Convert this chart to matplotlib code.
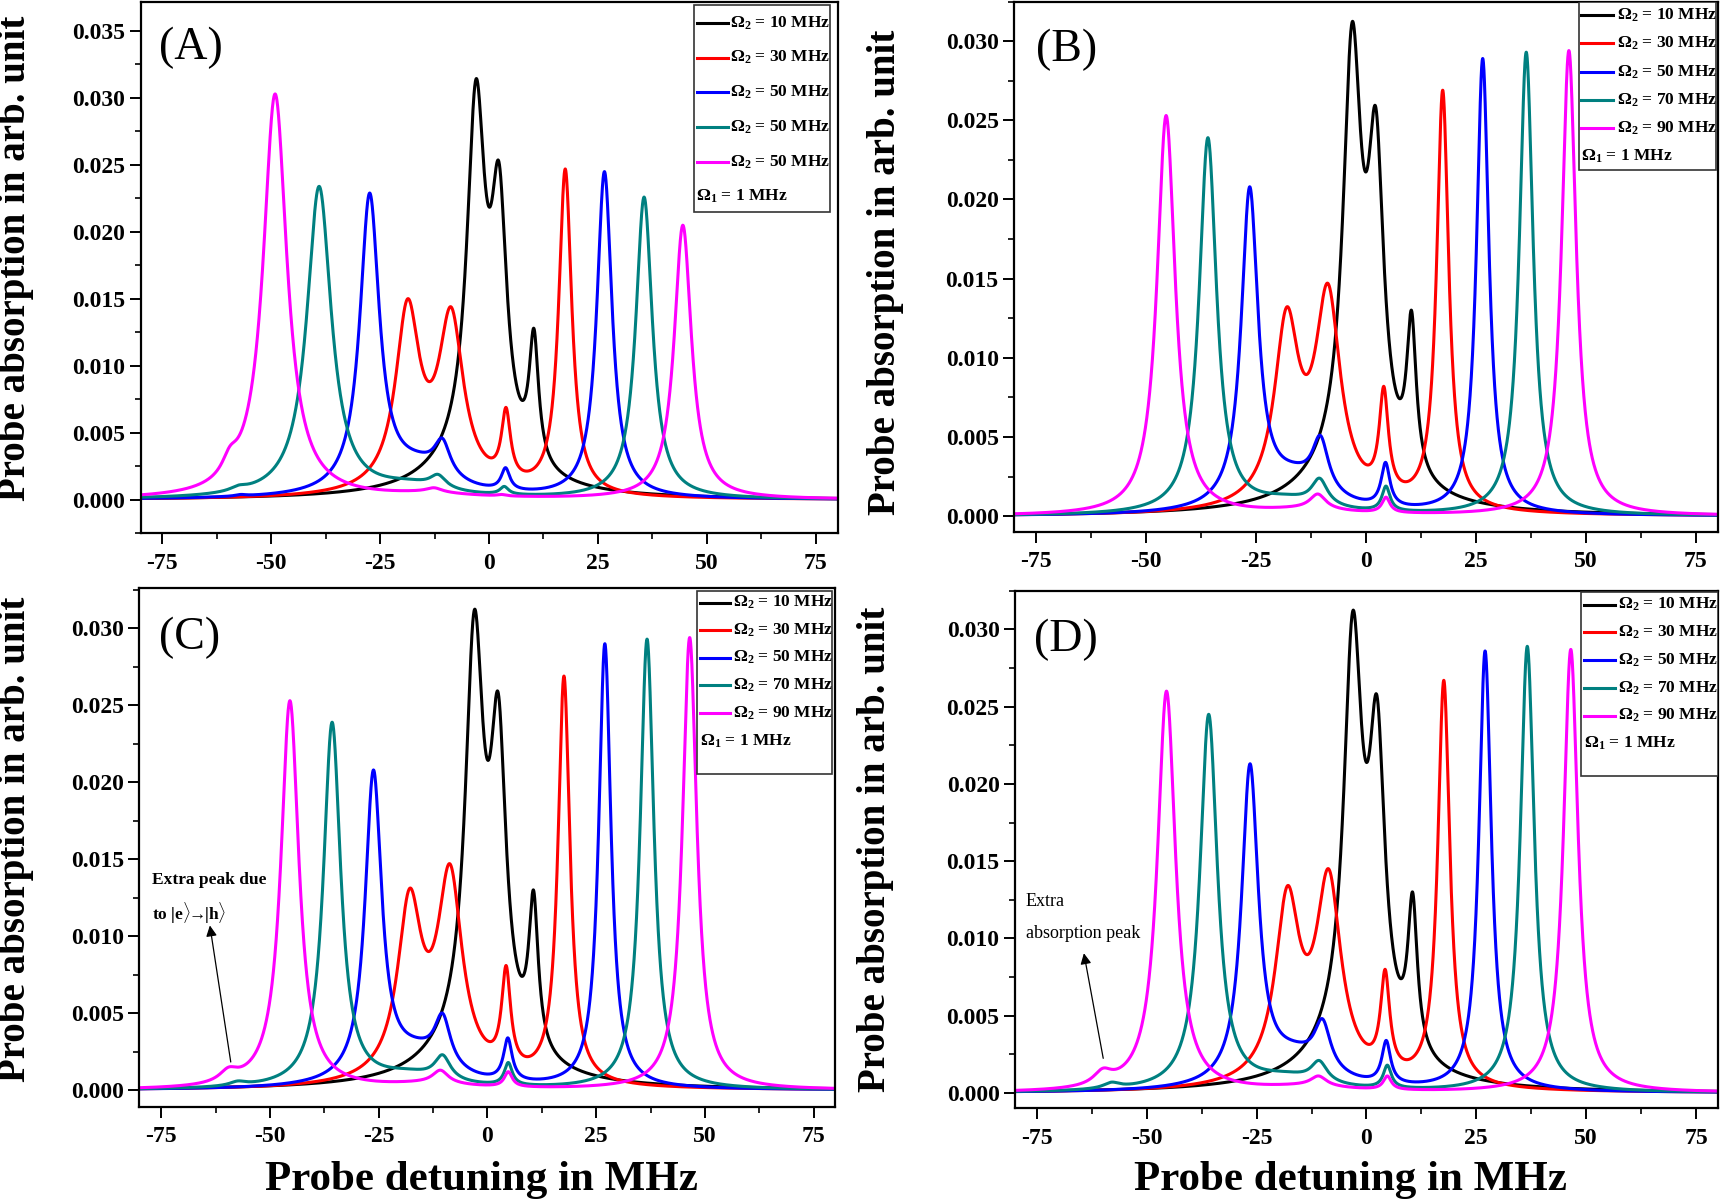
import numpy as np
import matplotlib
matplotlib.use("Agg")
import matplotlib.pyplot as plt
from matplotlib.ticker import MultipleLocator, FormatStrFormatter
from matplotlib.patches import Rectangle
from matplotlib.lines import Line2D

plt.rcParams['font.family'] = ['Liberation Serif', 'DejaVu Serif']
plt.rcParams['font.weight'] = 'bold'
plt.rcParams['mathtext.fontset'] = 'custom'
plt.rcParams['mathtext.rm'] = 'Liberation Serif'
plt.rcParams['mathtext.bf'] = 'Liberation Serif:bold'
plt.rcParams['mathtext.it'] = 'Liberation Serif:italic'
plt.rcParams['axes.unicode_minus'] = False

# ---------------- data ----------------
x_ticks = [-75, -50, -25, 0, 25, 50, 75]
omega2_A = [10, 30, 50, 50, 50]          # legend values printed in panel (A)
omega2_BCD = [10, 30, 50, 70, 90]
omega1 = 1

# each peak: (centre in MHz, curve height at centre, FWHM in MHz)
A_10 = [(-3.0, 0.0314, 5.0), (2.3, 0.0252, 4.3), (10.3, 0.0128, 2.6)]
A_30 = [(-18.7, 0.0150, 6.6), (-8.7, 0.0144, 6.8), (3.9, 0.0069, 2.5), (17.5, 0.0247, 3.6)]
A_50 = [(-57.0, 0.0004, 3.0), (-27.4, 0.0229, 5.4), (-10.7, 0.0046, 4.4), (3.8, 0.0024, 2.4), (26.5, 0.0245, 4.2)]
A_70 = [(-57.5, 0.0011, 4.5), (-39.0, 0.0234, 6.8), (-11.7, 0.0019, 4.4), (3.5, 0.0010, 2.4), (35.6, 0.0226, 4.6)]
A_90 = [(-59.5, 0.0040, 4.2), (-49.1, 0.0303, 6.6), (-12.6, 0.0009, 4.4), (2.9, 0.0004, 2.4), (44.5, 0.0205, 4.8)]

B_10 = [(-3.1, 0.0312, 5.0), (2.3, 0.0258, 4.3), (10.4, 0.0130, 2.6)]
B_30 = [(-18.0, 0.0132, 6.6), (-8.6, 0.0147, 6.8), (4.1, 0.0082, 2.5), (17.5, 0.0269, 3.3)]
B_50 = [(-26.4, 0.0208, 4.6), (-10.3, 0.0051, 4.4), (4.5, 0.0034, 2.4), (26.6, 0.0289, 3.4)]
B_70 = [(-35.9, 0.0239, 4.8), (-10.5, 0.0024, 4.4), (4.6, 0.0019, 2.2), (36.5, 0.0293, 3.8)]
B_90 = [(-45.4, 0.0253, 5.0), (-10.9, 0.0014, 4.4), (4.6, 0.0012, 2.2), (46.2, 0.0294, 4.0)]

C_10 = [(-3.0, 0.0312, 5.0), (2.5, 0.0258, 4.3), (10.6, 0.0130, 2.6)]
C_30 = [(-17.9, 0.0131, 6.6), (-8.6, 0.0147, 6.8), (4.3, 0.0081, 2.5), (17.6, 0.0269, 3.3)]
C_50 = [(-26.2, 0.0208, 4.6), (-10.3, 0.0050, 4.4), (4.7, 0.0034, 2.4), (27.0, 0.0290, 3.4)]
C_70 = [(-57.4, 0.0006, 4.5), (-35.7, 0.0239, 4.8), (-10.3, 0.0023, 4.4), (4.8, 0.0018, 2.2), (36.7, 0.0293, 3.8)]
C_90 = [(-59.5, 0.0015, 5.0), (-45.4, 0.0253, 5.0), (-10.8, 0.0013, 4.4), (4.8, 0.0012, 2.2), (46.5, 0.0294, 4.0)]

D_10 = [(-3.1, 0.0312, 5.0), (2.4, 0.0257, 4.3), (10.5, 0.0130, 2.6)]
D_30 = [(-18.0, 0.0134, 6.6), (-8.6, 0.0145, 6.8), (4.25, 0.0080, 2.5), (17.6, 0.0267, 3.3)]
D_50 = [(-26.5, 0.0213, 4.6), (-10.0, 0.0048, 4.4), (4.5, 0.0034, 2.4), (27.0, 0.0286, 3.4)]
D_70 = [(-58.0, 0.0007, 4.5), (-35.9, 0.0245, 4.8), (-10.75, 0.0021, 4.4), (4.75, 0.0018, 2.2), (36.6, 0.0289, 3.8)]
D_90 = [(-60.0, 0.0016, 5.0), (-45.5, 0.0260, 5.0), (-10.9, 0.0011, 4.4), (4.75, 0.0011, 2.2), (46.5, 0.0287, 4.0)]

# broad pedestal under each curve: (centre MHz, amplitude, FWHM MHz)
pedestal_10 = (-2.0, 0.0030, 24.0)
pedestal_30 = (-12.0, 0.0010, 22.0)
pedestal_50 = (-16.0, 0.0020, 18.0)
pedestal_70 = (-18.0, 0.0008, 20.0)
pedestal_90 = (-14.0, 0.0003, 24.0)

# ---------------- helpers ----------------
def lor(x, c, g):
    return g ** 2 / ((x - c) ** 2 + g ** 2)


def spectrum(x, peaks, ped):
    c = np.array([p[0] for p in peaks])
    h = np.array([p[1] for p in peaks])
    g = np.array([p[2] for p in peaks]) / 2.0
    pc, pa, pw = ped
    base = lambda t: pa * lor(t, pc, pw / 2.0)
    M = lor(c[:, None], c[None, :], g[None, :])
    amp = np.linalg.solve(M, h - base(c))
    y = base(x)
    for a, cc, gg in zip(amp, c, g):
        y = y + a * lor(x, cc, gg)
    return y


W, H = 1721, 1202
fig = plt.figure(figsize=(W / 100, H / 100), dpi=100)

colors = ['#000000', '#FF0000', '#0000FF', '#008080', '#FF00FF']
pedestals = [pedestal_10, pedestal_30, pedestal_50, pedestal_70, pedestal_90]

panels = [
    dict(name='(A)', box=(140.5, 1.5, 837.5, 533.3), ylim=(-0.0025, 0.0372),
         curves=[A_10, A_30, A_50, A_70, A_90], omegas=omega2_A,
         leg_box=(694, 5, 830, 212), leg_y=[23, 57.5, 92, 127, 162], leg_o1=196,
         leg_line=(696.5, 727.5), leg_text=730, letter=(159, 48),
         ylab=(16, 258), xlab=None),
    dict(name='(B)', box=(1014, 1.5, 1717.5, 532), ylim=(-0.001, 0.0325),
         curves=[B_10, B_30, B_50, B_70, B_90], omegas=omega2_BCD,
         leg_box=(1578.6, 1.7, 1715.6, 169.5), leg_y=[15.2, 43.2, 71.9, 100.3, 128.4], leg_o1=156.4,
         leg_line=(1581, 1613), leg_text=1616.5, letter=(1036, 50),
         ylab=(885, 272), xlab=None),
    dict(name='(C)', box=(139.4, 588.3, 835.4, 1106.5), ylim=(-0.00106, 0.0326),
         curves=[C_10, C_30, C_50, C_70, C_90], omegas=omega2_BCD,
         leg_box=(697, 591, 832, 773.6), leg_y=[602.6, 630, 657.7, 685.1, 712.9], leg_o1=741.4,
         leg_line=(700, 730), leg_text=732.6, letter=(159, 638),
         ylab=(16, 839), xlab=(481, 1180)),
    dict(name='(D)', box=(1014.9, 590.7, 1718, 1108.4), ylim=(-0.001, 0.0325),
         curves=[D_10, D_30, D_50, D_70, D_90], omegas=omega2_BCD,
         leg_box=(1581, 592, 1717.8, 775.6), leg_y=[604.6, 632.4, 660.1, 687.9, 715.7], leg_o1=743.4,
         leg_line=(1583.8, 1615), leg_text=1617.8, letter=(1034, 640),
         ylab=(876, 849), xlab=(1350, 1180)),
]

x = np.linspace(-80, 80, 4001)
axes = []
for p in panels:
    l, t, r, b = p['box']
    ax = fig.add_axes([l / W, 1 - b / H, (r - l) / W, (b - t) / H])
    axes.append(ax)

    def ax_xy(px, py, l=l, t=t, r=r, b=b):
        return (px - l) / (r - l), (b - py) / (b - t)

    for peaks, ped, col in zip(p['curves'], pedestals, colors):
        ax.plot(x, spectrum(x, peaks, ped), color=col, lw=2.2, solid_joinstyle='round')

    ax.set_xlim(-80, 80)
    ax.set_ylim(*p['ylim'])
    ax.set_xticks(x_ticks)
    ax.xaxis.set_minor_locator(MultipleLocator(12.5))
    ax.yaxis.set_major_locator(MultipleLocator(0.005))
    ax.yaxis.set_minor_locator(MultipleLocator(0.0025))
    ax.yaxis.set_major_formatter(FormatStrFormatter('%.3f'))
    ax.tick_params(which='major', direction='out', length=8, width=1.4, labelsize=17, pad=3)
    ax.tick_params(axis='x', which='major', pad=6)
    ax.tick_params(which='minor', direction='out', length=4.5, width=1.2)
    for s in ax.spines.values():
        s.set_linewidth(1.6)

    ax.set_ylabel('Probe absorption in arb. unit', fontsize=28, fontweight='bold', va='center')
    ax.yaxis.set_label_coords(p['ylab'][0] / W, 1 - p['ylab'][1] / H, transform=fig.transFigure)
    if p['xlab'] is not None:
        ax.set_xlabel('Probe detuning in MHz', fontsize=31, fontweight='bold', va='center')
        ax.xaxis.set_label_coords(p['xlab'][0] / W, 1 - p['xlab'][1] / H, transform=fig.transFigure)

    lx, ly = ax_xy(*p['letter'])
    ax.text(lx, ly, p['name'], transform=ax.transAxes, fontsize=33, fontweight='normal',
            ha='left', va='center')

    # legend box
    bl, bt, br, bb = p['leg_box']
    x0, y0 = ax_xy(bl, bb)
    x1, y1 = ax_xy(br, bt)
    ax.add_patch(Rectangle((x0, y0), x1 - x0, y1 - y0, transform=ax.transAxes, fill=True,
                           facecolor='white', edgecolor='#333333', lw=1.2, zorder=5))
    for yy, col, om in zip(p['leg_y'], colors, p['omegas']):
        a0, ay = ax_xy(p['leg_line'][0], yy)
        a1, _ = ax_xy(p['leg_line'][1], yy)
        ax.add_line(Line2D([a0, a1], [ay, ay], transform=ax.transAxes, color=col, lw=2.2, zorder=6))
        tx, _ = ax_xy(p['leg_text'], yy)
        ax.text(tx, ay, r'$\mathbf{\Omega_2}$ = %d MHz' % om, transform=ax.transAxes,
                fontsize=12.5, fontweight='bold', ha='left', va='center', zorder=6)
    ox, oy = ax_xy(bl + 2.5, p['leg_o1'])
    ax.text(ox, oy, r'$\mathbf{\Omega_1}$ = %d MHz' % omega1, transform=ax.transAxes,
            fontsize=12.5, fontweight='bold', ha='left', va='center', zorder=6)

# annotations
axC, axD = axes[2], axes[3]
axC.text(-77.2, 0.01364, 'Extra peak due', fontsize=12.5, fontweight='bold', ha='left', va='center')
axC.text(-77.2, 0.01149, r'to $|\mathbf{e}\rangle\!\!\rightarrow\!\!|\mathbf{h}\rangle$', fontsize=12.5,
         fontweight='bold', ha='left', va='center')
axC.annotate('', xy=(-63.8, 0.0107), xytext=(-59.0, 0.00183),
             arrowprops=dict(arrowstyle='-|>', color='black', lw=0.9, mutation_scale=16,
                             shrinkA=0, shrinkB=0))
axD.text(-77.5, 0.01238, 'Extra', fontsize=13, fontweight='normal', ha='left', va='center')
axD.text(-77.5, 0.01034, 'absorption peak', fontsize=13, fontweight='normal', ha='left', va='center')
axD.annotate('', xy=(-64.3, 0.00904), xytext=(-59.9, 0.00224),
             arrowprops=dict(arrowstyle='-|>', color='black', lw=0.9, mutation_scale=16,
                             shrinkA=0, shrinkB=0))

fig.savefig('out.png', dpi=100)
